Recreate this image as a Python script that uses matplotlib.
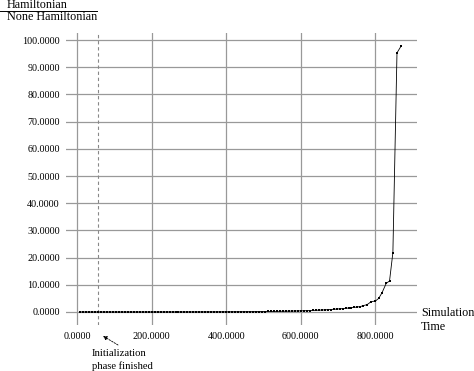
import numpy as np
import matplotlib
matplotlib.use("Agg")
import matplotlib.pyplot as plt

plt.rcParams['font.family'] = ['Liberation Serif', 'DejaVu Serif']

# time grid of the regular part of the run
t_regular = np.arange(8, 761, 8)
ratio_regular = [
    0.0, 0.0, 0.0, 0.0, 0.0, 0.0, 0.0, 0.0, 0.0, 0.0,
    0.0, 0.0, 0.0, 0.0, 0.0, 0.0, 0.0, 0.0, 0.0, 0.005,
    0.005, 0.006, 0.006, 0.007, 0.007, 0.008, 0.008, 0.009, 0.010, 0.011,
    0.012, 0.013, 0.014, 0.015, 0.016, 0.017, 0.019,
    0.020, 0.022, 0.024, 0.026, 0.029, 0.031, 0.034, 0.036, 0.039, 0.043,
    0.046, 0.050, 0.054, 0.059, 0.064, 0.069, 0.075, 0.081, 0.088, 0.095,
    0.10, 0.11, 0.12, 0.13, 0.14, 0.15, 0.17, 0.18, 0.20, 0.21,
    0.23, 0.25, 0.27, 0.29, 0.32, 0.34, 0.37, 0.40, 0.44, 0.47,
    0.51, 0.55, 0.60, 0.65, 0.70, 0.76, 0.83, 0.90, 0.97, 1.05,
    1.14, 1.23, 1.33, 1.44, 1.56, 1.69, 1.83, 1.99,
]
t_final = [767, 778, 789, 800, 809, 818, 829, 838, 847, 858, 869]
ratio_final = [2.3, 2.7, 3.8, 4.0, 5.0, 7.1, 10.5, 11.4, 21.8, 95.3, 97.8]

init_phase_end = 55
x_ticks = [0, 200, 400, 600, 800]
y_ticks = [0, 10, 20, 30, 40, 50, 60, 70, 80, 90, 100]

t = list(t_regular[:len(ratio_regular)]) + t_final
r = list(ratio_regular) + ratio_final

fig = plt.figure(figsize=(4.74, 3.71), dpi=100)
ax = fig.add_axes([0.139, 0.124, 0.741, 0.787])

ax.set_xlim(-30, 912)
ax.set_ylim(-4.8, 102.6)
for s in ax.spines.values():
    s.set_visible(False)

ax.set_xticks(x_ticks)
ax.set_yticks(y_ticks)
ax.set_xticklabels([f"{v:.4f}" for v in x_ticks])
ax.set_yticklabels([f"{v:.4f}" for v in y_ticks])
ax.tick_params(length=0, labelsize=7.3, pad=5)
ax.tick_params(axis='y', pad=4.5)
ax.grid(True, color='#999999', linewidth=0.9)
ax.set_axisbelow(True)

ax.axvline(init_phase_end, color='#888888', linewidth=0.8, linestyle=(0, (3, 2.5)))

ax.plot(t, r, color='black', linewidth=0.6, marker='s', markersize=1.8,
        markerfacecolor='black', markeredgewidth=0)

fig.text(421/474, 1-313/371, "Simulation", fontsize=8.7, ha='left', va='center')
fig.text(421/474, 1-327/371, "Time", fontsize=8.7, ha='left', va='center')

fig.text(7/474, 1-5.5/371, "Hamiltonian", fontsize=8.7, ha='left', va='center')
fig.text(7/474, 1-17/371, "None Hamiltonian", fontsize=8.7, ha='left', va='center')
fig.add_artist(plt.Line2D([0, 97/474], [1-11/371, 1-11/371], color='black', linewidth=0.7,
                          transform=fig.transFigure))

fig.text(92/474, 1-353/371, "Initialization", fontsize=7.7, ha='left', va='center')
fig.text(92/474, 1-366/371, "phase finished", fontsize=7.7, ha='left', va='center')
ax.annotate("", xy=(103/474, 1-336/371), xytext=(118/474, 1-345/371),
            xycoords='figure fraction', textcoords='figure fraction',
            arrowprops=dict(arrowstyle='-|>', color='black', lw=0.6, linestyle=(0, (2, 1.5)),
                            mutation_scale=6, shrinkA=0, shrinkB=0),
            annotation_clip=False)

fig.savefig("out.png", dpi=100)
